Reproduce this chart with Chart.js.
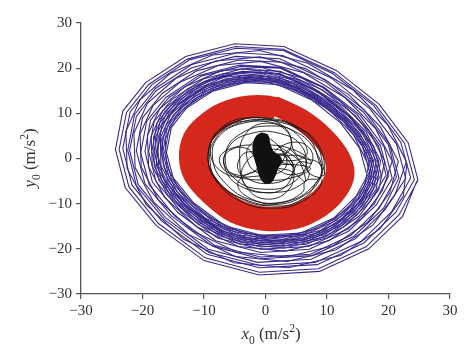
<!DOCTYPE html>
<html>
<head>
<meta charset="utf-8">
<script src="https://cdn.jsdelivr.net/npm/chart.js@4/dist/chart.umd.min.js"></script>
<style>
html,body{margin:0;padding:0;background:#fff;}
canvas{display:block;}
</style>
</head>
<body>
<canvas id="c" width="474" height="363"></canvas>
<script>
// ---- axis ticks ----
const tickValues = [-30, -20, -10, 0, 10, 20, 30];
const tickLabels = ['\u221230', '\u221220', '\u221210', '0', '10', '20', '30'];

// ---- blue trajectory (outer orbit), part A, x0 values, one line per loop ----
const blueX = [
  16.4,15.3,12.2,7.6,2.0,-3.3,-8.6,-12.9,-15.3,-16.1,-15.0,-11.7,-6.6,-0.7,5.8,11.1,14.7,
  16.9,15.8,12.6,7.8,2.0,-3.4,-8.7,-13.1,-15.6,-16.4,-15.3,-12.0,-6.7,-0.7,5.9,11.3,15.1,
  17.0,15.9,12.7,7.9,2.1,-3.4,-8.9,-13.4,-15.9,-16.7,-15.6,-12.2,-6.9,-0.7,6.0,11.5,15.3,
  17.3,16.2,12.9,8.0,2.1,-3.5,-9.1,-13.6,-16.2,-17.0,-15.9,-12.4,-7.0,-0.7,6.1,11.7,15.6,
  17.6,16.5,13.1,8.2,2.1,-3.6,-9.5,-14.1,-16.8,-17.6,-16.5,-12.9,-7.3,-0.7,6.2,11.9,15.8,
  18.0,16.8,13.4,8.3,2.2,-3.6,-9.4,-14.1,-16.8,-17.7,-16.5,-12.9,-7.2,-0.7,6.4,12.2,16.1,
  18.4,17.2,13.7,8.5,2.2,-3.7,-9.6,-14.4,-17.2,-18.1,-16.9,-13.2,-7.4,-0.7,6.5,12.4,16.5,
  18.8,17.6,14.0,8.7,2.3,-3.8,-9.9,-14.8,-17.6,-18.5,-17.3,-13.5,-7.6,-0.8,6.7,12.7,16.9,
  19.6,18.4,14.7,9.2,2.4,-3.9,-10.1,-15.2,-18.1,-19.0,-17.8,-13.9,-7.8,-0.8,7.0,13.4,17.7,
  20.0,18.7,14.9,9.3,2.4,-4.0,-10.5,-15.7,-18.7,-19.6,-18.4,-14.3,-8.1,-0.8,7.1,13.5,18.0,
  20.6,19.3,15.4,9.5,2.5,-4.2,-10.8,-16.2,-19.3,-20.3,-18.9,-14.8,-8.3,-0.8,7.3,13.9,18.5,
  21.3,20.0,15.9,9.9,2.6,-4.3,-11.2,-16.8,-20.0,-21.0,-19.6,-15.3,-8.6,-0.9,7.6,14.4,19.2,
  21.7,20.2,16.1,9.8,2.3,-4.9,-12.0,-17.8,-21.0,-22.1,-20.7,-16.2,-9.3,-1.3,7.4,14.6,19.4,
  22.8,21.3,17.0,10.6,2.8,-4.6,-12.0,-17.9,-21.3,-22.4,-21.0,-16.4,-9.2,-0.9,8.1,15.5,20.5,
  23.6,22.0,17.6,10.9,2.9,-4.8,-12.4,-18.5,-22.0,-23.2,-21.7,-16.9,-9.5,-1.0,8.4,16.0,21.2,
  24.2,22.6,18.0,11.2,2.9,-4.9,-12.7,-19.0,-22.6,-23.8,-22.2,-17.4,-9.8,-1.0,8.6,16.4,21.7,
  24.8,23.2,18.5,11.5,3.0,-5.0,-13.0,-19.5,-23.2,-24.4,-22.8,-17.8,-10.0,-1.0,8.8,16.8,22.3,
  24.6
];
// ---- blue trajectory part A, y0 values ----
const blueY = [
  -3.2,2.3,7.9,12.9,16.4,16.8,14.9,11.1,6.9,1.3,-4.3,-9.8,-14.9,-17.0,-16.5,-13.2,-8.4,
  -3.0,2.6,8.3,13.2,16.7,17.1,15.2,11.3,7.1,1.3,-4.4,-9.9,-15.2,-17.3,-16.8,-13.4,-8.6,
  -3.3,2.4,8.2,13.4,17.0,17.4,15.5,11.5,7.2,1.4,-4.5,-10.1,-15.5,-17.7,-17.1,-13.7,-8.8,
  -3.4,2.4,8.4,13.6,17.3,17.7,15.8,11.7,7.3,1.4,-4.8,-10.6,-16.1,-18.3,-17.8,-14.2,-9.1,
  -3.4,2.5,8.5,13.8,17.6,18.0,16.0,11.9,7.5,1.4,-4.6,-10.5,-16.0,-18.3,-17.8,-14.2,-9.1,
  -3.5,2.5,8.7,14.1,18.0,18.4,16.4,12.2,7.6,1.4,-4.7,-10.7,-16.4,-18.7,-18.1,-14.5,-9.3,
  -3.6,2.8,9.2,14.7,18.7,19.1,17.0,12.6,7.9,1.5,-4.8,-11.0,-16.7,-19.1,-18.5,-14.8,-9.5,
  -3.6,2.7,9.1,14.8,18.8,19.3,17.1,12.7,8.0,1.5,-4.9,-11.2,-17.1,-19.6,-19.0,-15.2,-9.7,
  -3.7,2.7,9.4,15.2,19.3,19.8,17.6,13.1,8.2,1.6,-5.1,-11.5,-17.6,-20.1,-19.5,-15.6,-10.0,
  -3.9,2.8,9.7,15.7,20.0,20.4,18.2,13.5,8.5,1.6,-5.2,-11.9,-18.2,-20.8,-20.1,-16.1,-10.3,
  -4.4,2.5,9.6,15.8,20.2,20.7,18.4,13.5,8.3,1.3,-5.8,-12.7,-19.2,-21.8,-21.2,-17.0,-11.0,
  -4.1,3.0,10.3,16.8,21.3,21.8,19.4,14.4,9.0,1.7,-5.6,-12.7,-19.4,-22.2,-21.5,-17.2,-11.0,
  -4.3,3.1,10.7,17.4,22.1,22.6,20.1,15.0,9.3,1.8,-5.8,-13.2,-20.1,-23.0,-22.3,-17.8,-11.4,
  -4.4,3.2,11.0,17.9,22.8,23.4,20.8,15.5,9.7,1.8,-6.0,-13.6,-20.8,-23.7,-23.0,-18.4,-11.8,
  -4.3,3.6,11.7,18.8,23.9,24.4,21.8,16.3,10.3,2.2,-5.9,-13.8,-21.2,-24.2,-23.5,-18.7,-11.9,
  -4.7,3.4,11.7,19.0,24.2,24.8,22.0,16.4,10.2,2.0,-6.3,-14.4,-22.0,-25.2,-24.4,-19.5,-12.5,
  -4.8,3.5,12.0,19.5,24.8,25.4,22.6,16.8,10.5,2.0,-6.5,-14.8,-22.6,-25.8,-25.0,-20.0,-12.8,
  -5.0
];

// ---- blue trajectory part B (later loops, corners shifted), x0 values ----
const blueX2 = [
  16.4,14.3,10.3,5.0,-0.7,-6.2,-11.1,-14.6,-16.3,-16.1,-13.9,-9.5,-3.8,2.7,8.8,13.3,16.1,
  16.9,14.7,10.6,5.1,-0.7,-6.3,-11.5,-15.0,-16.8,-16.6,-14.3,-9.8,-3.9,2.8,9.0,13.7,16.6,
  17.3,15.0,10.8,5.2,-0.7,-6.5,-11.7,-15.4,-17.1,-17.0,-14.6,-10.0,-3.9,2.8,9.2,14.0,16.9,
  17.6,15.3,11.0,5.3,-0.7,-6.6,-12.0,-15.7,-17.5,-17.4,-14.9,-10.2,-4.0,2.9,9.4,14.3,17.3,
  18.0,15.7,11.2,5.4,-0.7,-6.8,-12.2,-16.0,-17.9,-17.7,-15.2,-10.4,-4.1,2.9,9.6,14.6,17.6,
  18.4,16.0,11.5,5.6,-0.8,-6.9,-12.5,-16.4,-18.2,-18.1,-15.5,-10.7,-4.2,3.0,9.8,14.9,18.0,
  18.7,16.3,11.7,5.7,-0.8,-7.0,-12.7,-16.7,-18.6,-18.4,-15.8,-10.9,-4.3,3.1,10.0,15.2,18.4,
  19.4,16.8,12.1,5.8,-0.8,-7.3,-13.1,-17.2,-19.2,-19.0,-16.4,-11.2,-4.4,3.2,10.3,15.7,19.0,
  20.6,17.9,12.9,6.2,-0.8,-7.7,-13.9,-18.3,-20.4,-20.2,-17.4,-11.9,-4.7,3.4,11.0,16.7,20.2,
  21.6,18.7,13.5,6.5,-0.9,-8.1,-14.6,-19.2,-21.4,-21.2,-18.2,-12.5,-4.9,3.5,11.5,17.5,21.1,
  22.9,19.9,14.3,6.9,-0.9,-8.6,-15.5,-20.4,-22.7,-22.5,-19.4,-13.3,-5.2,3.7,12.2,18.6,22.4,
  23.0
];
// ---- blue trajectory part B, y0 values ----
const blueY2 = [
  -0.5,5.3,10.8,15.1,17.2,16.4,13.5,9.3,4.3,-1.5,-7.3,-12.8,-16.5,-17.4,-15.4,-11.2,-6.0,
  -0.5,5.5,11.1,15.6,17.7,16.9,13.9,9.6,4.4,-1.6,-7.5,-13.2,-17.0,-17.9,-15.9,-11.5,-6.2,
  -0.5,5.6,11.4,15.9,18.0,17.3,14.2,9.8,4.5,-1.6,-7.7,-13.5,-17.4,-18.3,-16.2,-11.8,-6.3,
  -0.5,5.7,11.6,16.3,18.4,17.6,14.5,10.0,4.6,-1.7,-7.8,-13.8,-17.8,-18.6,-16.6,-12.0,-6.5,
  -0.5,5.8,11.8,16.6,18.8,18.0,14.8,10.2,4.7,-1.7,-8.0,-14.0,-18.2,-19.0,-16.9,-12.3,-6.6,
  -0.5,5.9,12.1,17.0,19.2,18.4,15.1,10.4,4.8,-1.7,-8.2,-14.3,-18.5,-19.4,-17.3,-12.5,-6.8,
  -0.5,6.0,12.3,17.3,19.6,18.7,15.4,10.6,4.9,-1.8,-8.3,-14.6,-18.9,-19.8,-17.6,-12.8,-6.9,
  -0.6,6.2,12.7,17.9,20.2,19.4,15.9,11.0,5.1,-1.8,-8.6,-15.1,-19.5,-20.5,-18.2,-13.2,-7.1,
  -0.6,6.6,13.5,19.0,21.5,20.6,16.9,11.7,5.4,-1.9,-9.2,-16.0,-20.7,-21.8,-19.3,-14.0,-7.6,
  -0.6,7.0,14.2,19.9,22.5,21.6,17.7,12.2,5.6,-2.0,-9.6,-16.8,-21.7,-22.8,-20.2,-14.7,-7.9,
  -0.7,7.4,15.1,21.1,23.9,22.9,18.8,13.0,6.0,-2.2,-10.2,-17.9,-23.1,-24.2,-21.5,-15.6,-8.4,
  -1.0
];

// ---- red trajectory (middle orbit), x0 values, one line per loop ----
const redX = [
  1.4,-1.8,-5.0,-7.6,-9.1,-9.6,-8.9,-6.9,-3.8,-0.2,3.7,6.9,9.1,10.1,9.5,7.6,4.8,
  1.5,-1.9,-5.3,-8.0,-9.5,-10.0,-9.4,-7.3,-4.0,-0.2,3.9,7.3,9.6,10.6,9.9,8.0,5.0,
  1.5,-2.0,-5.5,-8.4,-10.0,-10.5,-9.8,-7.6,-4.2,-0.2,4.1,7.6,10.0,11.1,10.4,8.3,5.3,
  1.6,-2.1,-5.8,-8.8,-10.5,-11.0,-10.3,-8.0,-4.4,-0.3,4.2,7.9,10.5,11.6,10.9,8.7,5.5,
  1.6,-2.2,-6.0,-9.2,-10.9,-11.5,-10.7,-8.3,-4.6,-0.3,4.4,8.3,10.9,12.1,11.3,9.1,5.7,
  1.7,-2.3,-6.3,-9.6,-11.4,-12.0,-11.2,-8.7,-4.8,-0.3,4.6,8.6,11.4,12.6,11.8,9.5,6.0,
  1.8,-2.4,-6.6,-9.9,-11.9,-12.5,-11.7,-9.1,-5.0,-0.3,4.8,8.9,11.8,13.1,12.3,9.8,6.2,
  1.8,-2.5,-6.8,-10.3,-12.3,-13.0,-12.1,-9.4,-5.2,-0.3,5.0,9.3,12.2,13.6,12.7,10.2,6.4,
  1.9,-2.6,-7.0,-10.6,-12.7,-13.3,-12.5,-9.7,-5.4,-0.4,5.1,9.5,12.6,14.0,13.1,10.5,6.6,
  1.8,-2.8,-7.3,-11.0,-13.1,-13.8,-12.9,-10.0,-5.6,-0.5,5.1,9.7,12.8,14.2,13.3,10.6,6.7,
  1.9
];
// ---- red trajectory, y0 values ----
const redY = [
  9.2,9.5,8.3,6.0,3.5,0.1,-3.3,-6.6,-9.7,-11.0,-10.7,-8.7,-5.8,-2.6,0.7,4.1,7.1,
  9.7,10.0,8.8,6.4,3.7,0.1,-3.4,-6.9,-10.2,-11.5,-11.2,-9.1,-6.1,-2.7,0.8,4.3,7.5,
  10.2,10.5,9.2,6.7,3.9,0.2,-3.6,-7.2,-10.6,-12.1,-11.7,-9.5,-6.3,-2.8,0.8,4.6,7.9,
  10.7,11.0,9.7,7.0,4.1,0.2,-3.7,-7.5,-11.1,-12.6,-12.2,-9.9,-6.6,-2.9,0.9,4.8,8.3,
  11.2,11.5,10.1,7.4,4.3,0.3,-3.8,-7.8,-11.5,-13.1,-12.7,-10.3,-6.8,-3.0,1.0,5.1,8.7,
  11.7,12.0,10.6,7.7,4.6,0.3,-4.0,-8.1,-12.0,-13.6,-13.2,-10.7,-7.1,-3.1,1.1,5.3,9.1,
  12.2,12.5,11.1,8.0,4.8,0.3,-4.1,-8.4,-12.5,-14.1,-13.7,-11.1,-7.4,-3.2,1.1,5.5,9.4,
  12.7,13.0,11.5,8.4,5.0,0.4,-4.2,-8.7,-12.9,-14.6,-14.2,-11.5,-7.6,-3.3,1.2,5.8,9.8,
  13.1,13.4,11.8,8.6,5.1,0.4,-4.3,-8.9,-13.2,-15.0,-14.6,-11.8,-7.8,-3.4,1.2,6.0,10.1,
  13.2,13.6,12.0,8.7,5.1,0.2,-4.6,-9.3,-13.8,-15.6,-15.2,-12.3,-8.2,-3.6,1.1,5.9,10.2,
  13.4
];

// ---- black trajectory (inner orbit), x0 values ----
const blackX = [
  9.5,8.3,5.0,0.0,-5.0,-8.3,-9.0,-7.5,-3.5,1.5,6.5,9.2,
  8.8,7.0,2.5,-3.0,-7.5,-8.6,-6.5,-2.0,3.5,7.8,9.0,
  5.0,3.5,0.0,-3.2,-4.2,-3.0,0.5,4.0,5.2,
  7.5,4.5,-1.0,-6.0,-7.5,-5.5,0.0,5.0,7.2,
  -1.0,-3.0,-5.8,-6.8,-5.0,-2.0,-0.5,
  6.5,5.0,1.0,-4.0,-6.5,-5.0,0.0,4.8,6.5,
  1.5,4.0,7.0,7.5,5.0,2.0,1.0,
  4.0,3.0,-2.0,-7.0,-9.0,-7.0,-2.0,2.0,4.0,
  6.5,3.5,-1.5,-4.5,-2.5,2.0,6.0,6.5,
  9.0,8.0,4.0,-2.0,-7.0,-9.2,-8.5,-4.5,1.0,6.0,9.0,
  9.6,8.8,5.5,0.5,-4.5,-8.2,-9.3,-8.0,-4.0,1.0,6.0,9.2,
  7.0,6.0,2.5,-2.5,-6.0,-6.5,-3.5,1.5,5.5,7.0,
  2.0,0.0,-2.5,-3.0,-1.5,1.5,3.5,2.0,
  4.5,3.0,-0.5,-3.5,-3.5,-0.5,3.0,4.5,
  3.0,-2.5,-4.5,-3.5,1.0,4.5,3.5,0.5
];
// ---- black trajectory, y0 values ----
const blackY = [
  -2.5,3.0,7.0,8.6,7.5,4.0,-1.0,-5.5,-9.0,-10.2,-8.0,-3.5,
  -1.0,4.5,8.0,8.0,5.0,0.0,-5.5,-9.3,-9.5,-6.0,-1.5,
  1.0,6.0,7.8,5.5,0.0,-6.5,-9.0,-6.5,-1.0,
  -1.0,2.0,3.0,2.0,-0.5,-3.5,-4.8,-4.0,-2.0,
  -0.5,2.2,1.8,-1.0,-3.5,-3.0,-1.0,
  0.5,5.5,7.2,5.5,1.0,-4.5,-6.8,-5.0,0.0,
  1.0,3.5,2.5,-1.0,-3.5,-2.5,0.0,
  2.0,7.0,9.0,7.0,2.0,-3.0,-4.0,-2.0,2.0,
  -5.0,-2.5,-2.8,-5.5,-8.8,-9.8,-7.5,-5.0,
  -4.0,2.0,6.5,8.3,6.5,2.0,-3.5,-8.5,-10.5,-9.0,-4.0,
  -3.5,2.5,6.8,8.9,8.3,5.0,0.0,-5.0,-9.5,-11.0,-9.5,-5.0,
  -3.0,2.5,5.5,5.5,2.5,-2.5,-6.5,-7.5,-6.0,-3.0,
  3.0,4.5,3.0,0.0,-3.0,-3.5,-1.0,3.0,
  -2.0,1.5,1.5,-1.5,-5.5,-7.5,-6.5,-2.0,
  -1.0,1.5,-1.0,-4.0,-5.5,-3.0,0.5,1.0
];

// ---- dense black core (outline of the scribbled centre) ----
const coreX = [-0.6,0.3,0.7,1.2,2.2,2.6,2.0,1.6,0.9,-0.1,-0.8,-1.2,-1.6,-2.0,-1.9,-1.4,-0.6];
const coreY = [5.6,5.2,3.2,1.5,0.6,-0.6,-2.0,-3.5,-5.2,-5.4,-4.2,-2.5,-0.5,1.5,3.5,5.0,5.6];

function toPoints(xs, ys) { return xs.map((x, i) => ({ x: x, y: ys[i] })); }

const serif = "'Liberation Serif', 'DejaVu Serif', serif";

function drawRich(ctx, parts, size) {
  let w = 0;
  const items = parts.map(p => {
    const fs = (p.sub || p.sup) ? size * 0.68 : size;
    const font = (p.it ? 'italic ' : '') + fs + 'px ' + serif;
    ctx.font = font;
    const pw = ctx.measureText(p.t).width;
    w += pw;
    return { t: p.t, font: font, w: pw, dy: p.sub ? size * 0.28 : (p.sup ? -size * 0.42 : 0) };
  });
  let x = -w / 2;
  items.forEach(it => {
    ctx.font = it.font;
    ctx.fillText(it.t, x, it.dy);
    x += it.w;
  });
}

const titlePlugin = {
  id: 'axisTitles',
  afterDraw(chart) {
    const ctx = chart.ctx;
    ctx.save();
    ctx.fillStyle = '#333';
    ctx.textBaseline = 'alphabetic';
    ctx.textAlign = 'left';
    ctx.translate(271, 339);
    drawRich(ctx, [{ t: 'x', it: true }, { t: '0', sub: true }, { t: ' (m/s' }, { t: '2', sup: true }, { t: ')' }], 17);
    ctx.restore();

    ctx.save();
    ctx.fillStyle = '#333';
    ctx.textBaseline = 'alphabetic';
    ctx.textAlign = 'left';
    ctx.translate(35, 158);
    ctx.rotate(-Math.PI / 2);
    drawRich(ctx, [{ t: 'y', it: true }, { t: '0', sub: true }, { t: ' (m/s' }, { t: '2', sup: true }, { t: ')' }], 17);
    ctx.restore();
  }
};

const axisColor = '#555';
const tickFont = { family: serif, size: 15 };
const blueColor = 'rgb(56,42,140)';

new Chart(document.getElementById('c'), {
  type: 'scatter',
  data: {
    datasets: [
      { label: 'core', data: toPoints(coreX, coreY), showLine: true, fill: 'shape',
        backgroundColor: '#111', borderColor: '#111', borderWidth: 1.5, pointRadius: 0, tension: 0.3, order: 0 },
      { label: 'inner', data: toPoints(blackX, blackY), showLine: true, fill: false,
        borderColor: '#151515', borderWidth: 0.9, pointRadius: 0, tension: 0.45, order: 1 },
      { label: 'middle', data: toPoints(redX, redY), showLine: true, fill: false,
        borderColor: 'rgb(212,40,28)', borderWidth: 3.4, pointRadius: 0, tension: 0.3, order: 2 },
      { label: 'outer', data: toPoints(blueX, blueY), showLine: true, fill: false,
        borderColor: blueColor, borderWidth: 1.1, pointRadius: 0, tension: 0, order: 3 },
      { label: 'outer2', data: toPoints(blueX2, blueY2), showLine: true, fill: false,
        borderColor: blueColor, borderWidth: 1.1, pointRadius: 0, tension: 0, order: 4 }
    ]
  },
  options: {
    responsive: false,
    animation: false,
    events: [],
    layout: { padding: { top: 23, right: 24, left: 0, bottom: 0 } },
    plugins: { legend: { display: false }, tooltip: { enabled: false } },
    scales: {
      x: {
        type: 'linear', min: -30, max: 30,
        afterBuildTicks: s => { s.ticks = tickValues.map(v => ({ value: v })); },
        afterFit: s => { s.height = 69; },
        ticks: { font: tickFont, color: '#333', padding: 3, autoSkip: false, maxRotation: 0,
          callback: v => tickLabels[tickValues.indexOf(v)] },
        grid: { display: true, drawOnChartArea: false, drawTicks: true, tickLength: 5, color: axisColor, lineWidth: 1.2 },
        border: { display: true, color: axisColor, width: 1.3 }
      },
      y: {
        type: 'linear', min: -30, max: 30,
        afterBuildTicks: s => { s.ticks = tickValues.map(v => ({ value: v })); },
        afterFit: s => { s.width = 81; },
        ticks: { font: tickFont, color: '#333', padding: 4, autoSkip: false,
          callback: v => tickLabels[tickValues.indexOf(v)] },
        grid: { display: true, drawOnChartArea: false, drawTicks: true, tickLength: 5, color: axisColor, lineWidth: 1.2 },
        border: { display: true, color: axisColor, width: 1.3 }
      }
    }
  },
  plugins: [titlePlugin]
});
</script>
</body>
</html>
